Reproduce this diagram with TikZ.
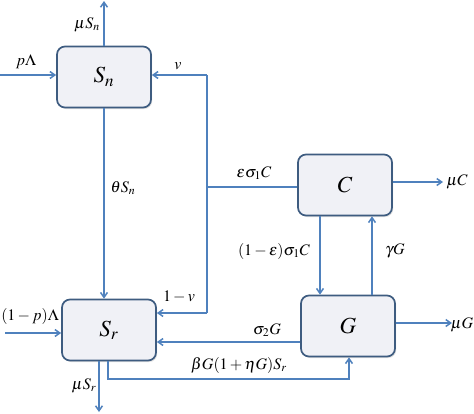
\documentclass[tikz,border=0pt]{standalone}
\usepackage{mathptmx}
\usetikzlibrary{arrows.meta,shadows}
\definecolor{lc}{RGB}{79,129,189}
\definecolor{bc}{RGB}{62,92,128}
\definecolor{bf}{RGB}{240,241,246}
\begin{document}
\begin{tikzpicture}[x=1pt,y=-1pt,
  box/.style={draw=bc, line width=1.7pt, fill=bf, rounded corners=8pt,
    minimum width=94pt, minimum height=61pt, font=\fontsize{23}{25}\selectfont,
    drop shadow={opacity=0.25, shadow xshift=1.2pt, shadow yshift=-1.5pt}},
  ln/.style={draw=lc, line width=1.5pt},
  arr/.style={ln, -{Straight Barb[angle=70:6pt]}},
  lab/.style={font=\fontsize{16}{18}\selectfont, inner sep=1pt}]
\useasboundingbox (0,0) rectangle (474,413);
\node[box] (Sn) at (104,77) {$S_n$};
\node[box] (Sr) at (109,330) {$S_r$};
\node[box] (C) at (345,185) {$C$};
\node[box] (G) at (348,326) {$G$};
\coordinate (top) at (104,1);
\coordinate (inN) at (0,75);
\coordinate (jn) at (207,75);
\coordinate (jr) at (207,313);
\coordinate (jc) at (207,187);
\coordinate (inR) at (5,333);
\coordinate (outR) at (99,412);
\coordinate (bl) at (108,379);
\coordinate (br) at (349,379);
\coordinate (s2) at (302,342);
\coordinate (outC) at (443,182);
\coordinate (outG) at (452,323);
\coordinate (xd) at (320,250);
\coordinate (xu) at (372,250);
% connectors
\draw[arr] (Sn.north) -- (top);
\draw[arr] (inN) -- (inN -| Sn.west);
\draw[arr] (jn) -- (jn -| Sn.east);
\draw[ln] (jn) -- (jr);
\draw[arr] (jr) -- (jr -| Sr.east);
\draw[ln] (C.west |- jc) -- (jc);
\draw[arr] (Sn.south) -- (Sn.south |- Sr.north);
\draw[arr] (inR) -- (inR -| Sr.west);
\draw[arr] (Sr.south -| outR) -- (outR);
\draw[arr] (Sr.south -| bl) -- (bl) -- (br) -- (G.south -| br);
\draw[arr] (G.west |- s2) -- (s2 -| Sr.east);
\draw[arr] (G.east |- outG) -- (outG);
\draw[arr] (C.east |- outC) -- (outC);
\draw[arr] (C.south -| xd) -- (G.north -| xd);
\draw[arr] (G.north -| xu) -- (C.south -| xu);
% labels
\node[lab] (l1) at (87,25) {$\mu S_n$};
\node[lab] (l2) at (26,62) {$p\Lambda$};
\node[lab] (l3) at (178,66) {$v$};
\node[lab] (l4) at (179,297) {$1-v$};
\node[lab] (l5) at (254,173) {$\varepsilon\sigma_1 C$};
\node[lab] (l6) at (123,188) {$\theta S_n$};
\node[lab] (l7) at (30,316) {$(1-p)\Lambda$};
\node[lab] (l8) at (84,386) {$\mu S_r$};
\node[lab] (l9) at (239,365) {$\beta G(1+\eta G)S_r$};
\node[lab] (l10) at (267,330) {$\sigma_2 G$};
\node[lab] (l11) at (462,325) {$\mu G$};
\node[lab] (l12) at (457,182) {$\mu C$};
\node[lab] (l13) at (274,251) {$(1-\varepsilon)\sigma_1 C$};
\node[lab] (l14) at (395,251) {$\gamma G$};
\end{tikzpicture}
\end{document}
